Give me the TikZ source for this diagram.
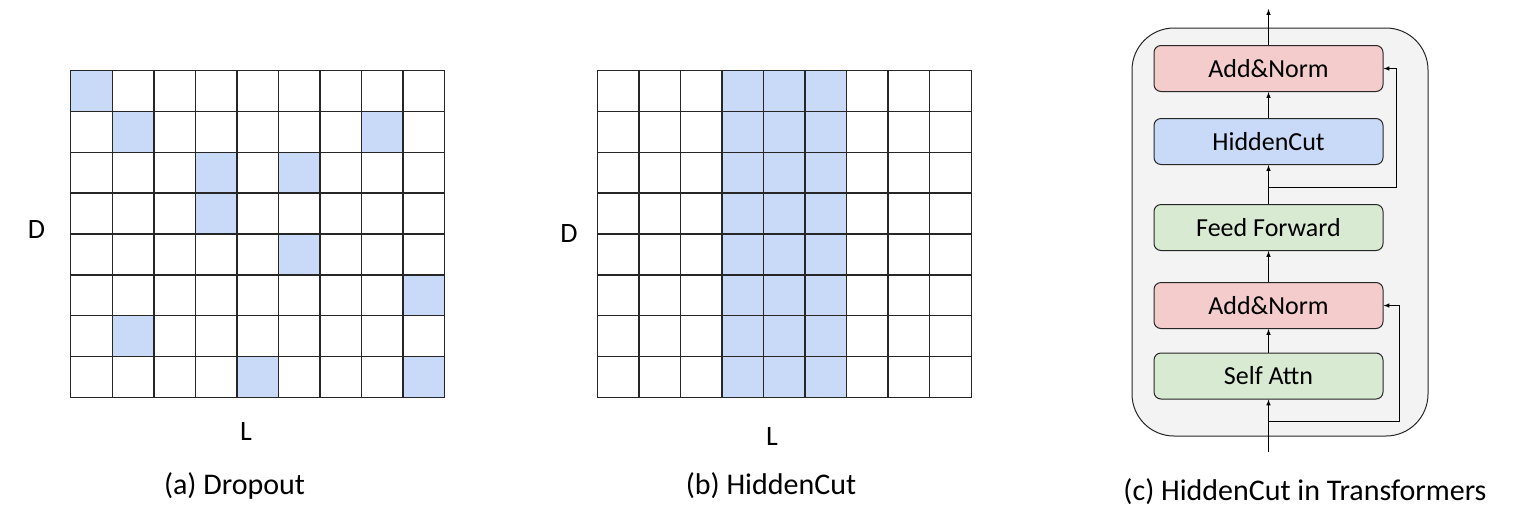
\documentclass[tikz,border=0pt]{standalone}
\usepackage{fontspec}
\setmainfont{Carlito}
\usetikzlibrary{calc}

\definecolor{cutblue}{HTML}{C9DAF8}
\definecolor{normred}{HTML}{F4CCCC}
\definecolor{ffgreen}{HTML}{D9EAD3}
\definecolor{panelgray}{HTML}{F3F3F3}

\tikzset{
    gridline/.style={line width=1.4pt,draw=black!85,line cap=rect},
    layer/.style={draw=black!85,line width=1pt,rounded corners=7pt,minimum width=229pt,minimum height=46pt,font=\fontsize{26}{30}\selectfont},
    axislabel/.style={font=\fontsize{28}{32}\selectfont},
    caption/.style={font=\fontsize{30}{34}\selectfont},
}

\begin{document}
\begin{tikzpicture}[>=latex,x=1pt,y=-1pt]
    \useasboundingbox (0,0) rectangle (1523,523);
    % (a) dropout: random cells
    \begin{scope}[shift={(70.7,70.7)},x=41.55pt,y=-40.83pt]
        \foreach \c/\r in {0/0,1/1,7/1,3/2,5/2,3/3,5/4,8/5,1/6,4/7,8/7}
            \fill[cutblue] (\c,\r) rectangle ++(1,1);
        \foreach \i in {0,...,9}
            \draw[gridline] (\i,0) -- (\i,8);
        \foreach \j in {0,...,8}
            \draw[gridline] (0,\j) -- (9,\j);
    \end{scope}
    \node[axislabel] (dA) at (36.5,229.5) {D};
    \node[axislabel] (lA) at (246,432) {L};
    \node[caption] (capA) at (234.5,486) {(a) Dropout};
    % (b) hiddencut: contiguous columns
    \begin{scope}[shift={(597.3,70.7)},x=41.55pt,y=-40.83pt]
        \fill[cutblue] (3,0) rectangle (6,8);
        \foreach \i in {0,...,9}
            \draw[gridline] (\i,0) -- (\i,8);
        \foreach \j in {0,...,8}
            \draw[gridline] (0,\j) -- (9,\j);
    \end{scope}
    \node[axislabel] (dB) at (569,234) {D};
    \node[axislabel] (lB) at (772,437) {L};
    \node[caption] (capB) at (771,486) {(b) HiddenCut};
    % (c) transformer layer
    \node[draw=black!85,line width=1pt,fill=panelgray,rounded corners=42pt,minimum width=296pt,minimum height=408pt] (frame) at (1280,232) {};
    \node[layer,fill=normred] (norm1) at (1268.5,68.5) {Add\&Norm};
    \node[layer,fill=cutblue] (cut) at (1268.5,141.5) {HiddenCut};
    \node[layer,fill=ffgreen] (ffn) at (1268.5,227.5) {Feed Forward};
    \node[layer,fill=normred] (norm2) at (1268.5,305.5) {Add\&Norm};
    \node[layer,fill=ffgreen] (attn) at (1268.5,376) {Self Attn};
    \coordinate (in) at (1268.5,452);
    \coordinate (out) at (1268.5,9);
    \coordinate (res1) at (1268.5,421);
    \coordinate (res2) at (1268.5,187);
    \draw[->,line width=1pt] (in) -- (attn);
    \draw[->,line width=1pt] (attn) -- (norm2);
    \draw[->,line width=1pt] (norm2) -- (ffn);
    \draw[->,line width=1pt] (ffn) -- (cut);
    \draw[->,line width=1pt] (cut) -- (norm1);
    \draw[->,line width=1pt] (norm1) -- (out);
    \draw[->,line width=1pt] (res1) -- ++(130.5,0) |- (norm2.east);
    \draw[->,line width=1pt] (res2) -- ++(127.5,0) |- (norm1.east);
    \node[caption] (capC) at (1305,492) {(c) HiddenCut in Transformers};
\end{tikzpicture}
\end{document}
